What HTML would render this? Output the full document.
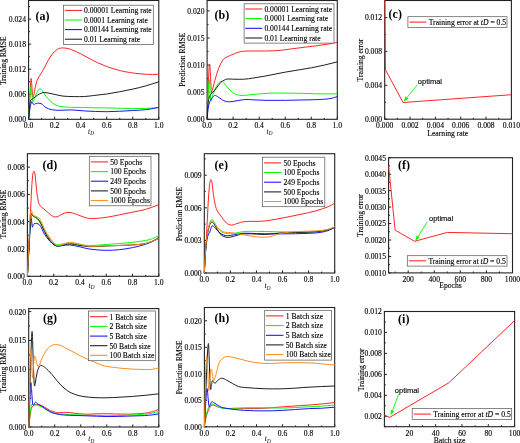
<!DOCTYPE html>
<html lang="en"><head><meta charset="utf-8"><title>Hyperparameter sensitivity figure</title>
<style>html,body{margin:0;padding:0;background:#fff}body{width:520px;height:443px;overflow:hidden}svg{display:block}</style>
</head><body>
<svg width="520" height="443" viewBox="0 0 520 443">
<rect width="520" height="443" fill="#fff"/>
<defs>
<clipPath id="ca"><rect x="28.1" y="0" width="131.2" height="119.8"/></clipPath>
<clipPath id="cb"><rect x="206.6" y="0" width="131.2" height="119.8"/></clipPath>
<clipPath id="cc"><rect x="384.2" y="0" width="127.7" height="119.7"/></clipPath>
<clipPath id="cd"><rect x="26.9" y="153.2" width="132.4" height="123.6"/></clipPath>
<clipPath id="ce"><rect x="203.8" y="153.2" width="131.4" height="120.3"/></clipPath>
<clipPath id="cf"><rect x="388.1" y="157.2" width="124.9" height="116.2"/></clipPath>
<clipPath id="cg"><rect x="28.2" y="308.1" width="131.1" height="119.4"/></clipPath>
<clipPath id="ch"><rect x="203.9" y="307" width="131.3" height="120.3"/></clipPath>
<clipPath id="ci"><rect x="383.9" y="311" width="131.2" height="116.2"/></clipPath>
</defs>
<rect x="28.6" y="0.5" width="130.2" height="118.8" fill="none" stroke="#222" stroke-width="1.1"/>
<path d="M28.6 119.3v-2.6M54.64 119.3v-2.6M80.68 119.3v-2.6M106.72 119.3v-2.6M132.76 119.3v-2.6M158.8 119.3v-2.6M41.62 119.3v-1.4M67.66 119.3v-1.4M93.7 119.3v-1.4M119.74 119.3v-1.4M145.78 119.3v-1.4M28.6 119.3h2.6M28.6 94.25h2.6M28.6 69.2h2.6M28.6 44.15h2.6M28.6 19.1h2.6M28.6 106.77h1.4M28.6 81.72h1.4M28.6 56.67h1.4M28.6 31.62h1.4M28.6 6.58h1.4" fill="none" stroke="#222" stroke-width="1"/>
<g font-family="'Liberation Serif', serif" font-size="7.65" fill="#000" stroke="#000" stroke-width="0.12">
<g text-anchor="middle">
<text x="28.6" y="128.3">0.0</text>
<text x="54.64" y="128.3">0.2</text>
<text x="80.68" y="128.3">0.4</text>
<text x="106.72" y="128.3">0.6</text>
<text x="132.76" y="128.3">0.8</text>
<text x="158.8" y="128.3">1.0</text>
</g><g text-anchor="end">
<text x="26" y="122.2">0.000</text>
<text x="26" y="97.15">0.006</text>
<text x="26" y="72.1">0.012</text>
<text x="26" y="47.05">0.018</text>
<text x="26" y="22">0.024</text>
</g></g>
<g clip-path="url(#ca)" fill="none" stroke-width="0.98" stroke-linejoin="round">
<path d="M28.6 119.3C28.95 113.73 29.34 108.17 29.64 102.6C29.99 96.34 30.18 90.07 30.55 83.81C30.66 82 30.88 78.38 31.07 78.38C31.27 78.38 31.57 82 31.72 83.81C32.05 87.56 32.15 91.34 32.51 95.08C32.59 95.93 32.81 97.59 33.03 97.59C33.25 97.59 33.61 95.94 33.81 95.08C34.91 90.37 35.27 85.38 36.93 80.89C38.39 76.96 41.15 73.54 43.18 69.83C44.88 66.72 46.37 63.5 48.13 60.43C49.32 58.35 50.52 56.22 52.04 54.38C53.56 52.53 55.25 50.58 57.24 49.37C58.81 48.42 60.87 47.89 62.71 47.91C65.51 47.93 68.48 48.58 71.18 49.49C74.82 50.73 78.26 52.64 81.72 54.38C85.29 56.17 88.69 58.31 92.27 60.1C95.77 61.85 99.33 63.5 102.94 64.98C106.4 66.4 109.92 67.68 113.49 68.78C116.95 69.85 120.49 70.75 124.04 71.5C127.52 72.23 131.05 72.74 134.58 73.21C138.13 73.68 141.69 74.04 145.26 74.29C147.6 74.46 149.95 74.46 152.29 74.46C154.46 74.46 156.63 74.35 158.8 74.29" stroke="#ff2020"/>
<path d="M28.6 119.3C28.95 113.73 29.3 108.17 29.64 102.6C29.91 98.15 30.04 93.68 30.42 89.24C30.52 88.11 30.92 85.56 31.07 85.9C31.36 86.53 31.52 90.07 31.72 92.16C32 94.94 32.1 97.77 32.51 100.51C32.57 100.97 32.97 101.96 33.16 101.77C33.62 101.27 34.03 99.54 34.46 98.42C35.11 96.75 35.65 95.03 36.41 93.41C36.96 92.25 37.56 91.05 38.37 90.07C38.82 89.52 39.6 88.76 40.19 88.82C40.9 88.9 41.73 89.8 42.27 90.49C43.68 92.3 44.58 94.56 46.05 96.34C48.14 98.87 50.33 101.53 52.95 103.44C54.93 104.87 57.43 105.85 59.85 106.36C63.64 107.15 67.65 107.12 71.57 107.32C75.9 107.54 80.25 107.54 84.59 107.61C91.96 107.73 99.34 107.76 106.72 107.9C115.4 108.08 124.08 108.45 132.76 108.57C137.1 108.63 141.44 108.56 145.78 108.44C148.39 108.38 150.99 108.24 153.59 108.03C155.33 107.89 157.06 107.61 158.8 107.4" stroke="#00ff00"/>
<path d="M28.6 119.3C29.03 115.82 29.29 112.31 29.9 108.86C30.33 106.46 30.86 102.77 31.72 101.77C32.12 101.31 32.86 104.17 33.68 104.48C34.34 104.73 35.28 103.53 36.15 103.44C37.76 103.25 39.65 103.03 41.1 103.64C42.95 104.43 44.24 106.57 46.05 107.61C47.75 108.59 49.71 109.32 51.65 109.7C54.31 110.22 57.11 110.3 59.85 110.32C63.75 110.36 67.67 109.81 71.57 109.91C75.91 110.02 80.24 110.73 84.59 110.95C91.96 111.33 99.34 111.77 106.72 111.7C115.4 111.63 124.08 110.98 132.76 110.53C137.1 110.31 141.46 110.13 145.78 109.7C148.4 109.43 151 108.9 153.59 108.44C155.34 108.14 157.06 107.75 158.8 107.4" stroke="#1010ff"/>
<path d="M28.6 119.3C28.95 115.13 29.21 110.94 29.64 106.77C29.86 104.68 29.75 102.3 30.55 100.51C31 99.51 32.48 99.15 33.42 98.42C34.83 97.34 36.11 96.06 37.58 95.08C38.84 94.25 40.22 93.55 41.62 93C42.35 92.71 43.18 92.58 43.96 92.58C45.35 92.58 46.75 92.78 48.13 93C49.75 93.25 51.34 93.66 52.95 94C56.25 94.69 59.51 95.68 62.84 96.09C66.58 96.54 70.39 96.52 74.17 96.59C77.64 96.65 81.12 96.7 84.59 96.5C87.63 96.34 90.66 95.85 93.7 95.5C98.04 95.01 102.4 94.62 106.72 94C111.08 93.37 115.41 92.56 119.74 91.75C124.09 90.93 128.44 90.08 132.76 89.11C137.12 88.14 141.48 87.11 145.78 85.9C150.16 84.67 154.46 83.17 158.8 81.81" stroke="#1a1a1a"/>
</g>
<rect x="63.4" y="5.2" width="89.9" height="39.4" fill="#fff" stroke="#555" stroke-width="0.7"/>
<path d="M64.9 10.4H82.1" stroke="#ff2020" stroke-width="1.05"/>
<path d="M64.9 20H82.1" stroke="#00ff00" stroke-width="1.05"/>
<path d="M64.9 29.6H82.1" stroke="#1010ff" stroke-width="1.05"/>
<path d="M64.9 39.2H82.1" stroke="#1a1a1a" stroke-width="1.05"/>
<g font-family="'Liberation Serif', serif" font-size="7.65" fill="#000" stroke="#000" stroke-width="0.12">
<text x="84" y="13.2">0.00001 Learning rate</text>
<text x="84" y="22.8">0.0001 Learning rate</text>
<text x="84" y="32.4">0.00144 Learning rate</text>
<text x="84" y="42">0.01 Learning rate</text>
</g>
<text x="35.5" y="19.5" font-family="'Liberation Serif', serif" font-size="12" font-weight="bold" fill="#000">(a)</text>
<text transform="translate(6.2 60.7) rotate(-90)" text-anchor="middle" font-family="'Liberation Serif', serif" font-size="7.65" fill="#000" stroke="#000" stroke-width="0.12">Training RMSE</text>
<text x="88" y="133.7" font-family="'Liberation Serif', serif" font-size="7.65" font-style="italic" fill="#000">t<tspan font-size="5.2" dy="1.6">D</tspan></text>
<rect x="207.1" y="0.5" width="130.2" height="118.8" fill="none" stroke="#222" stroke-width="1.1"/>
<path d="M207.1 119.3v-2.6M233.14 119.3v-2.6M259.18 119.3v-2.6M285.22 119.3v-2.6M311.26 119.3v-2.6M337.3 119.3v-2.6M220.12 119.3v-1.4M246.16 119.3v-1.4M272.2 119.3v-1.4M298.24 119.3v-1.4M324.28 119.3v-1.4M207.1 119.3h2.6M207.1 92.2h2.6M207.1 65.1h2.6M207.1 38h2.6M207.1 10.9h2.6M207.1 105.75h1.4M207.1 78.65h1.4M207.1 51.55h1.4M207.1 24.45h1.4" fill="none" stroke="#222" stroke-width="1"/>
<g font-family="'Liberation Serif', serif" font-size="7.65" fill="#000" stroke="#000" stroke-width="0.12">
<g text-anchor="middle">
<text x="207.1" y="128.3">0.0</text>
<text x="233.14" y="128.3">0.2</text>
<text x="259.18" y="128.3">0.4</text>
<text x="285.22" y="128.3">0.6</text>
<text x="311.26" y="128.3">0.8</text>
<text x="337.3" y="128.3">1.0</text>
</g><g text-anchor="end">
<text x="204.5" y="122.2">0.000</text>
<text x="204.5" y="95.1">0.005</text>
<text x="204.5" y="68">0.010</text>
<text x="204.5" y="40.9">0.015</text>
<text x="204.5" y="13.8">0.020</text>
</g></g>
<g clip-path="url(#cb)" fill="none" stroke-width="0.98" stroke-linejoin="round">
<path d="M207.1 119.3C207.45 110.27 207.8 101.23 208.14 92.2C208.45 84.07 208.6 75.92 209.05 67.81C209.12 66.53 209.59 63.36 209.7 64.02C210.07 66.07 210.26 71.96 210.49 75.94C210.74 80.45 210.82 84.98 211.14 89.49C211.21 90.58 211.42 92.74 211.66 92.74C211.9 92.74 212.28 90.58 212.57 89.49C213.37 86.42 214.03 83.32 214.91 80.28C216.12 76.09 217.24 71.85 218.82 67.81C219.85 65.17 221.19 62.58 222.72 60.22C223.36 59.24 224.33 58.41 225.33 57.78C226.94 56.78 228.78 56.12 230.54 55.34C232.26 54.58 233.97 53.79 235.74 53.18C237.88 52.44 240.03 51.56 242.25 51.28C245.67 50.84 249.2 51.05 252.67 51.01C257.01 50.96 261.35 51.1 265.69 51.01C270.03 50.92 274.38 50.83 278.71 50.47C283.06 50.1 287.39 49.38 291.73 48.84C296.07 48.3 300.41 47.76 304.75 47.21C309.09 46.67 313.44 46.17 317.77 45.59C322.12 45 326.47 44.41 330.79 43.69C332.98 43.33 335.13 42.79 337.3 42.34" stroke="#ff2020"/>
<path d="M207.1 119.3C207.4 112.07 207.68 104.85 208.01 97.62C208.24 92.56 208.43 87.49 208.79 82.44C208.86 81.53 209.23 79.22 209.31 79.73C209.62 81.57 209.75 86.24 209.96 89.49C210.19 92.92 210.27 96.39 210.62 99.79C210.66 100.18 211.02 101.1 211.14 100.87C211.58 100.02 211.84 97.96 212.31 96.54C213.1 94.16 213.89 91.77 214.91 89.49C215.84 87.43 216.83 85.3 218.17 83.53C218.87 82.59 220.02 81.57 221.03 81.36C221.76 81.21 222.76 81.86 223.38 82.44C225.06 84.03 226.29 86.17 227.93 87.86C229.85 89.84 231.73 92.09 234.05 93.45C236.07 94.62 238.61 95.22 240.95 95.45C243.51 95.71 246.16 95.13 248.76 94.91C254.19 94.46 259.61 93.79 265.04 93.45C269.59 93.16 274.15 93.04 278.71 93.01C285.22 92.98 291.73 93.15 298.24 93.28C304.75 93.42 311.26 93.74 317.77 93.83C324.28 93.92 330.79 93.83 337.3 93.83" stroke="#00ff00"/>
<path d="M207.1 119.3C207.45 115.69 207.6 112.04 208.14 108.46C208.47 106.26 208.91 104.01 209.7 101.96C210.3 100.4 211.3 98.95 212.31 97.62C212.95 96.78 213.77 95.64 214.65 95.45C215.5 95.28 216.63 96.04 217.52 96.54C218.89 97.31 220.06 98.45 221.42 99.25C222.97 100.15 224.53 101.31 226.24 101.63C228.44 102.04 230.86 101.68 233.14 101.41C236.98 100.97 240.76 99.84 244.6 99.52C247.27 99.29 249.98 99.68 252.67 99.79C256.79 99.95 260.91 100.26 265.04 100.33C271.76 100.44 278.49 100.41 285.22 100.33C293.9 100.23 302.58 100.03 311.26 99.79C315.6 99.67 319.95 99.58 324.28 99.25C326.9 99.04 329.53 98.7 332.09 98.16C333.87 97.79 335.56 97.08 337.3 96.54" stroke="#1010ff"/>
<path d="M207.1 119.3C207.4 113.88 207.41 108.42 208.01 103.04C208.28 100.65 208.79 98.17 209.7 95.99C210.23 94.74 211.4 93.79 212.31 92.74C213.13 91.8 214.11 90.99 214.91 90.03C216.07 88.64 217.06 87.12 218.17 85.7C219.1 84.5 219.93 83.19 221.03 82.17C221.89 81.38 222.98 80.81 224.03 80.28C225.02 79.77 226.06 79.16 227.15 79.03C229.1 78.8 231.14 79.17 233.14 79.19C236.96 79.23 240.79 79.4 244.6 79.19C247.3 79.04 249.99 78.51 252.67 78.11C256.8 77.48 260.93 76.86 265.04 76.1C271.78 74.87 278.47 73.36 285.22 72.15C293.88 70.59 302.6 69.37 311.26 67.81C315.62 67.02 319.96 66.09 324.28 65.1C328.64 64.1 332.96 62.93 337.3 61.85" stroke="#1a1a1a"/>
</g>
<rect x="244.1" y="3.8" width="89.9" height="39.3" fill="#fff" stroke="#555" stroke-width="0.7"/>
<path d="M245.2 9H262.3" stroke="#ff2020" stroke-width="1.05"/>
<path d="M245.2 18.6H262.3" stroke="#00ff00" stroke-width="1.05"/>
<path d="M245.2 28.3H262.3" stroke="#1010ff" stroke-width="1.05"/>
<path d="M245.2 38H262.3" stroke="#1a1a1a" stroke-width="1.05"/>
<g font-family="'Liberation Serif', serif" font-size="7.65" fill="#000" stroke="#000" stroke-width="0.12">
<text x="264.4" y="11.8">0.00001 Learning rate</text>
<text x="264.4" y="21.4">0.0001 Learning rate</text>
<text x="264.4" y="31.1">0.00144 Learning rate</text>
<text x="264.4" y="40.8">0.01 Learning rate</text>
</g>
<text x="214.6" y="18.8" font-family="'Liberation Serif', serif" font-size="12" font-weight="bold" fill="#000">(b)</text>
<text transform="translate(184.5 59.7) rotate(-90)" text-anchor="middle" font-family="'Liberation Serif', serif" font-size="7.65" fill="#000" stroke="#000" stroke-width="0.12">Prediction RMSE</text>
<text x="266.5" y="133.7" font-family="'Liberation Serif', serif" font-size="7.65" font-style="italic" fill="#000">t<tspan font-size="5.2" dy="1.6">D</tspan></text>
<rect x="384.7" y="0.5" width="126.7" height="118.7" fill="none" stroke="#222" stroke-width="1.1"/>
<path d="M384.7 119.2v-2.6M410.04 119.2v-2.6M435.38 119.2v-2.6M460.72 119.2v-2.6M486.06 119.2v-2.6M511.4 119.2v-2.6M397.37 119.2v-1.4M422.71 119.2v-1.4M448.05 119.2v-1.4M473.39 119.2v-1.4M498.73 119.2v-1.4M384.7 119.2h2.6M384.7 85.3h2.6M384.7 51.4h2.6M384.7 17.5h2.6M384.7 102.25h1.4M384.7 68.35h1.4M384.7 34.45h1.4" fill="none" stroke="#222" stroke-width="1"/>
<g font-family="'Liberation Serif', serif" font-size="7.65" fill="#000" stroke="#000" stroke-width="0.12">
<g text-anchor="middle">
<text x="384.7" y="128.2">0.000</text>
<text x="410.04" y="128.2">0.002</text>
<text x="435.38" y="128.2">0.004</text>
<text x="460.72" y="128.2">0.006</text>
<text x="486.06" y="128.2">0.008</text>
<text x="511.4" y="128.2">0.010</text>
</g><g text-anchor="end">
<text x="382.1" y="122.1">0.000</text>
<text x="382.1" y="88.2">0.004</text>
<text x="382.1" y="54.3">0.008</text>
<text x="382.1" y="20.4">0.012</text>
</g></g>
<g clip-path="url(#cc)" fill="none" stroke-width="0.98" stroke-linejoin="round">
<path d="M384.83 -3.69L385.46 69.79L403.07 102.5L511.4 94.71" stroke="#ff2020"/>
</g>
<rect x="407.9" y="16.7" width="99.1" height="10.9" fill="#fff" stroke="#555" stroke-width="0.7"/>
<path d="M409.4 22.1H426.3" stroke="#ff2020" stroke-width="1.05"/>
<g font-family="'Liberation Serif', serif" font-size="7.65" fill="#000" stroke="#000" stroke-width="0.12">
<text x="428.7" y="24.9">Training error at <tspan font-style="italic">tD</tspan> = 0.5</text>
</g>
<text x="388.6" y="17.6" font-family="'Liberation Serif', serif" font-size="12" font-weight="bold" fill="#000">(c)</text>
<text transform="translate(362.9 60) rotate(-90)" text-anchor="middle" font-family="'Liberation Serif', serif" font-size="7.65" fill="#000" stroke="#000" stroke-width="0.12">Training error</text>
<text x="447.8" y="135.6" text-anchor="middle" font-family="'Liberation Serif', serif" font-size="7.65" fill="#000" stroke="#000" stroke-width="0.12">Learning rate</text>
<path d="M417.4 84.8L407.13 97.45" stroke="#00ff00" stroke-width="0.9" fill="none"/>
<path d="M403.6 101.8L405.65 96.25L408.6 98.65Z" fill="#00ff00"/>
<text x="417.8" y="83.9" font-family="'Liberation Sans', sans-serif" font-size="7.5" fill="#000" stroke="#000" stroke-width="0.12">optimal</text>
<rect x="27.4" y="153.7" width="131.4" height="122.6" fill="none" stroke="#222" stroke-width="1.1"/>
<path d="M27.4 276.3v-2.6M53.68 276.3v-2.6M79.96 276.3v-2.6M106.24 276.3v-2.6M132.52 276.3v-2.6M158.8 276.3v-2.6M40.54 276.3v-1.4M66.82 276.3v-1.4M93.1 276.3v-1.4M119.38 276.3v-1.4M145.66 276.3v-1.4M27.4 276.3h2.6M27.4 249h2.6M27.4 221.7h2.6M27.4 194.4h2.6M27.4 167.1h2.6M27.4 262.65h1.4M27.4 235.35h1.4M27.4 208.05h1.4M27.4 180.75h1.4" fill="none" stroke="#222" stroke-width="1"/>
<g font-family="'Liberation Serif', serif" font-size="7.65" fill="#000" stroke="#000" stroke-width="0.12">
<g text-anchor="middle">
<text x="27.4" y="285.3">0.0</text>
<text x="53.68" y="285.3">0.2</text>
<text x="79.96" y="285.3">0.4</text>
<text x="106.24" y="285.3">0.6</text>
<text x="132.52" y="285.3">0.8</text>
<text x="158.8" y="285.3">1.0</text>
</g><g text-anchor="end">
<text x="24.8" y="279.2">0.000</text>
<text x="24.8" y="251.9">0.002</text>
<text x="24.8" y="224.6">0.004</text>
<text x="24.8" y="197.3">0.006</text>
<text x="24.8" y="170">0.008</text>
</g></g>
<g clip-path="url(#cd)" fill="none" stroke-width="0.98" stroke-linejoin="round">
<path d="M27.4 276.3C28.06 262.65 28.71 249 29.37 235.35C30.03 221.7 30.6 208.04 31.34 194.4C31.69 188.02 31.94 181.61 32.66 175.29C32.82 173.83 33.5 171.33 33.97 171.06C34.29 170.87 34.88 172.92 35.02 173.93C35.76 179.34 35.92 184.86 36.6 190.31C37.11 194.42 37.58 198.61 38.57 202.59C38.89 203.89 39.71 205.1 40.54 206.14C41.24 207.01 42.3 207.58 43.17 208.32C45.06 209.95 46.91 211.63 48.82 213.24C49.89 214.13 50.92 215.13 52.1 215.83C53.06 216.4 54.19 216.99 55.26 217.06C56.29 217.13 57.42 216.67 58.41 216.24C59.61 215.71 60.62 214.73 61.83 214.19C63.47 213.46 65.2 212.62 66.95 212.42C68.79 212.21 70.78 212.5 72.6 212.96C75.42 213.68 78.11 214.99 80.88 215.97C82.75 216.63 84.6 217.47 86.53 217.88C88.67 218.33 90.91 218.62 93.1 218.56C97.48 218.44 101.89 217.94 106.24 217.33C110.65 216.71 115.01 215.74 119.38 214.88C123.77 214.01 128.14 213.06 132.52 212.15C136.9 211.24 141.37 210.64 145.66 209.42C150.13 208.14 154.42 206.23 158.8 204.64" stroke="#ff2020"/>
<path d="M27.4 276.3C27.93 267.2 28.43 258.1 28.98 249C29.52 239.9 29.83 230.76 30.68 221.7C30.89 219.57 31.17 216.28 32.13 215.42C32.7 214.91 34.29 216.8 35.28 217.61C36.66 218.71 38.22 219.73 39.23 221.15C41.28 224.05 42.66 227.47 44.48 230.57C46.16 233.43 47.62 236.54 49.74 239.04C51.56 241.18 53.87 243.43 56.31 244.5C57.81 245.15 59.83 244.44 61.56 244.22C64.21 243.89 66.82 242.82 69.45 242.86C72.95 242.91 76.45 244.01 79.96 244.5C83.02 244.92 86.08 245.59 89.16 245.59C94.84 245.59 100.55 244.88 106.24 244.5C110.62 244.2 115 243.9 119.38 243.54C123.76 243.18 128.15 242.81 132.52 242.31C136.91 241.81 141.32 241.32 145.66 240.54C147.89 240.14 150.11 239.55 152.23 238.76C154.49 237.92 156.61 236.67 158.8 235.62" stroke="#00ff00"/>
<path d="M27.4 276.3C27.93 267.2 28.45 258.1 28.98 249C29.5 239.9 29.85 230.77 30.55 221.7C30.64 220.63 31.18 218.07 31.34 218.56C31.79 219.89 31.78 225.95 32.39 227.16C32.66 227.68 33.03 224.11 33.97 223.75C35.3 223.24 38.08 223.43 39.23 224.57C41.58 226.89 42.54 231.06 44.48 234.12C46.04 236.57 47.71 239.04 49.74 241.08C51.65 243 53.91 245.05 56.31 246C57.85 246.6 59.82 245.87 61.56 245.72C64.2 245.51 66.84 244.75 69.45 244.91C72.97 245.11 76.47 246.09 79.96 246.82C83.04 247.46 86.04 248.58 89.16 249C94.8 249.76 100.54 250.24 106.24 250.37C110.62 250.46 115.02 250.14 119.38 249.68C123.78 249.23 128.19 248.54 132.52 247.64C136.95 246.72 141.37 245.62 145.66 244.22C148.38 243.34 151.02 242.14 153.54 240.81C155.4 239.82 157.05 238.44 158.8 237.26" stroke="#1010ff"/>
<path d="M27.4 276.3C27.93 266.29 28.43 256.28 28.98 246.27C29.48 237.17 29.83 228.04 30.55 218.97C30.7 217.12 31.02 214.09 31.6 213.51C31.94 213.18 32.58 215.53 33.31 216.24C33.8 216.71 34.7 216.66 35.28 217.06C36.68 218.02 38.33 218.92 39.23 220.34C41.39 223.74 42.56 227.89 44.48 231.53C46.07 234.53 47.61 237.66 49.74 240.26C51.56 242.49 53.85 244.92 56.31 246C57.8 246.65 59.83 245.72 61.56 245.45C64.21 245.04 66.81 243.95 69.45 243.95C72.94 243.95 76.45 244.97 79.96 245.45C83.02 245.88 86.08 246.62 89.16 246.68C94.84 246.8 100.55 246.23 106.24 246C115 245.64 123.77 245.45 132.52 244.91C136.91 244.63 141.36 244.38 145.66 243.54C148.37 243.01 150.95 241.81 153.54 240.81C155.33 240.12 157.05 239.26 158.8 238.49" stroke="#1a1a1a"/>
<path d="M27.4 276.3C27.93 264.93 28.44 253.55 28.98 242.18C29.41 233.07 29.62 223.94 30.29 214.88C30.41 213.25 30.91 210.1 31.34 210.1C31.79 210.1 32.07 213.55 32.92 214.88C33.38 215.6 34.48 215.82 35.28 216.24C36.58 216.91 38.24 217.17 39.23 218.15C40.43 219.35 41.08 221.2 41.85 222.79C42.83 224.79 43.43 226.98 44.48 228.93C46.06 231.89 47.79 234.81 49.74 237.53C51.73 240.32 53.7 243.83 56.31 245.45C57.65 246.28 59.86 245.31 61.56 244.91C64.24 244.27 66.77 242.41 69.45 242.31C72.9 242.18 76.47 243.52 79.96 244.22C83.04 244.84 86.04 246.09 89.16 246.27C94.8 246.59 100.55 245.9 106.24 245.72C115 245.45 123.77 245.39 132.52 244.91C136.91 244.66 141.36 244.38 145.66 243.54C148.37 243.01 150.95 241.81 153.54 240.81C155.33 240.12 157.05 239.26 158.8 238.49" stroke="#ff8a14"/>
</g>
<rect x="89.3" y="156.3" width="61.7" height="49.5" fill="#fff" stroke="#555" stroke-width="0.7"/>
<path d="M90.9 161.9H108" stroke="#ff2020" stroke-width="1.05"/>
<path d="M90.9 171.6H108" stroke="#00ff00" stroke-width="1.05"/>
<path d="M90.9 181.2H108" stroke="#1010ff" stroke-width="1.05"/>
<path d="M90.9 190.9H108" stroke="#1a1a1a" stroke-width="1.05"/>
<path d="M90.9 200.6H108" stroke="#ff8a14" stroke-width="1.05"/>
<g font-family="'Liberation Serif', serif" font-size="7.65" fill="#000" stroke="#000" stroke-width="0.12">
<text x="110.2" y="164.7">50 Epochs</text>
<text x="110.2" y="174.4">100 Epochs</text>
<text x="110.2" y="184">249 Epochs</text>
<text x="110.2" y="193.7">500 Epochs</text>
<text x="110.2" y="203.4">1000 Epochs</text>
</g>
<text x="42.6" y="168.8" font-family="'Liberation Serif', serif" font-size="12" font-weight="bold" fill="#000">(d)</text>
<text transform="translate(5.8 214) rotate(-90)" text-anchor="middle" font-family="'Liberation Serif', serif" font-size="7.65" fill="#000" stroke="#000" stroke-width="0.12">Training RMSE</text>
<text x="88.5" y="287.5" font-family="'Liberation Serif', serif" font-size="7.65" font-style="italic" fill="#000">t<tspan font-size="5.2" dy="1.6">D</tspan></text>
<rect x="204.3" y="153.7" width="130.4" height="119.3" fill="none" stroke="#222" stroke-width="1.1"/>
<path d="M204.3 273v-2.6M230.38 273v-2.6M256.46 273v-2.6M282.54 273v-2.6M308.62 273v-2.6M334.7 273v-2.6M217.34 273v-1.4M243.42 273v-1.4M269.5 273v-1.4M295.58 273v-1.4M321.66 273v-1.4M204.3 273h2.6M204.3 240.4h2.6M204.3 207.8h2.6M204.3 175.2h2.6M204.3 256.7h1.4M204.3 224.1h1.4M204.3 191.5h1.4M204.3 158.9h1.4" fill="none" stroke="#222" stroke-width="1"/>
<g font-family="'Liberation Serif', serif" font-size="7.65" fill="#000" stroke="#000" stroke-width="0.12">
<g text-anchor="middle">
<text x="204.3" y="282">0.0</text>
<text x="230.38" y="282">0.2</text>
<text x="256.46" y="282">0.4</text>
<text x="282.54" y="282">0.6</text>
<text x="308.62" y="282">0.8</text>
<text x="334.7" y="282">1.0</text>
</g><g text-anchor="end">
<text x="201.7" y="275.9">0.000</text>
<text x="201.7" y="243.3">0.003</text>
<text x="201.7" y="210.7">0.006</text>
<text x="201.7" y="178.1">0.009</text>
</g></g>
<g clip-path="url(#ce)" fill="none" stroke-width="0.98" stroke-linejoin="round">
<path d="M204.3 273C204.95 262.13 205.65 251.27 206.26 240.4C206.96 227.73 207.47 215.04 208.21 202.37C208.55 196.57 208.86 190.74 209.52 184.98C209.73 183.13 210.27 180.31 210.82 179.55C211.06 179.22 211.73 180.93 211.86 181.72C212.6 186 212.79 190.43 213.43 194.76C213.96 198.4 214.53 202.06 215.38 205.63C215.83 207.49 216.43 209.38 217.34 211.06C218.39 213 219.9 214.72 221.25 216.49C222.94 218.7 224.39 221.3 226.47 223.01C227.87 224.16 229.92 224.99 231.68 225.08C233.39 225.17 235.15 224.04 236.9 223.56C239.37 222.88 241.81 221.92 244.33 221.6C247.46 221.2 250.68 221.47 253.85 221.38C257.5 221.29 261.18 221.41 264.81 221.06C268.57 220.69 272.29 219.88 276.02 219.21C280.38 218.43 284.72 217.58 289.06 216.71C293.41 215.84 297.76 214.93 302.1 213.99C306.45 213.05 310.85 212.26 315.14 211.06C319.55 209.83 323.94 208.41 328.18 206.71C330.46 205.8 332.53 204.4 334.7 203.24" stroke="#ff2020"/>
<path d="M204.3 273C204.73 265.76 205 258.5 205.6 251.27C206.09 245.46 206.73 239.65 207.56 233.88C208.03 230.59 208.59 227.27 209.52 224.1C210.01 222.42 210.88 219.76 211.8 219.32C212.4 219.03 213.43 220.98 214.08 221.93C215.27 223.66 216.1 225.66 217.34 227.36C218.49 228.92 219.73 230.57 221.25 231.71C222.34 232.52 223.8 232.97 225.16 233.23C227.41 233.66 229.79 233.89 232.08 233.77C234.14 233.67 236.16 232.96 238.2 232.58C240.24 232.2 242.27 231.62 244.33 231.49C248.35 231.23 252.42 231.38 256.46 231.38C259.24 231.38 262.02 231.43 264.81 231.49C270.72 231.61 276.63 231.89 282.54 231.92C291.23 231.97 299.94 232 308.62 231.71C312.98 231.56 317.34 231.18 321.66 230.62C324.3 230.28 326.94 229.73 329.48 228.99C331.28 228.46 332.96 227.54 334.7 226.82" stroke="#00ff00"/>
<path d="M204.3 273C204.73 265.76 205.04 258.5 205.6 251.27C205.91 247.27 206.28 243.26 206.91 239.31C207.15 237.82 207.65 236.36 208.21 234.97C208.56 234.11 209.28 233.43 209.65 232.58C210.59 230.38 210.93 227.06 212.12 225.84C212.63 225.32 214 226.69 214.73 227.36C215.74 228.28 216.36 229.64 217.34 230.62C218.53 231.81 219.83 232.99 221.25 233.88C222.44 234.62 223.8 235.27 225.16 235.51C226.84 235.81 228.66 235.72 230.38 235.51C233.01 235.18 235.58 234.31 238.2 233.88C240.23 233.55 242.28 233.26 244.33 233.23C248.37 233.16 252.42 233.45 256.46 233.55C259.24 233.63 262.02 233.74 264.81 233.77C270.72 233.85 276.63 233.94 282.54 233.88C291.23 233.79 299.94 233.7 308.62 233.34C312.98 233.16 317.37 232.92 321.66 232.25C324.32 231.83 326.96 231.02 329.48 230.08C331.31 229.39 332.96 228.27 334.7 227.36" stroke="#1010ff"/>
<path d="M204.3 273C204.73 265.03 204.94 257.04 205.6 249.09C206.03 244 206.74 238.92 207.56 233.88C208.04 230.95 208.54 227.94 209.52 225.19C209.95 223.96 210.95 222.13 211.8 221.93C212.47 221.77 213.47 223.26 214.08 224.1C215.31 225.79 216.18 227.77 217.34 229.53C218.57 231.39 219.63 233.54 221.25 234.97C222.54 236.11 224.39 236.85 226.08 237.25C227.44 237.57 228.98 237.4 230.38 237.14C233.02 236.64 235.57 235.6 238.2 234.97C240.23 234.48 242.26 233.87 244.33 233.77C248.35 233.58 252.42 233.95 256.46 234.1C259.24 234.2 262.03 234.67 264.81 234.53C270.72 234.24 276.61 233.1 282.54 232.79C291.22 232.34 299.94 232.61 308.62 232.25C312.98 232.07 317.34 231.73 321.66 231.16C324.3 230.82 326.95 230.29 329.48 229.53C331.29 228.99 332.96 228.01 334.7 227.25" stroke="#1a1a1a"/>
<path d="M204.3 273C204.73 265.03 204.96 257.04 205.6 249.09C206.05 243.64 206.71 238.19 207.56 232.79C208.02 229.86 208.53 226.84 209.52 224.1C209.94 222.93 210.91 221.38 211.8 221.06C212.43 220.83 213.5 221.81 214.08 222.47C215.35 223.91 216.06 225.9 217.34 227.36C218.45 228.62 219.84 229.71 221.25 230.62C222.44 231.38 223.79 232.06 225.16 232.36C226.84 232.72 228.65 232.4 230.38 232.58C233 232.84 235.61 233.22 238.2 233.66C240.26 234.02 242.28 234.61 244.33 234.97C248.36 235.66 252.4 236.36 256.46 236.81C259.23 237.12 262.04 237.38 264.81 237.25C267.26 237.13 269.71 236.63 272.11 236.05C275.62 235.21 278.99 233.67 282.54 233.01C286.82 232.22 291.22 232.02 295.58 231.71C299.92 231.4 304.27 231.34 308.62 231.16C312.97 230.98 317.35 231.07 321.66 230.62C324.3 230.34 326.94 229.73 329.48 228.99C331.28 228.46 332.96 227.54 334.7 226.82" stroke="#ff8a14"/>
</g>
<rect x="262.6" y="157.2" width="62.2" height="49.5" fill="#fff" stroke="#555" stroke-width="0.7"/>
<path d="M264.1 162.9H281.2" stroke="#ff2020" stroke-width="1.05"/>
<path d="M264.1 172.5H281.2" stroke="#00ff00" stroke-width="1.05"/>
<path d="M264.1 182.2H281.2" stroke="#1010ff" stroke-width="1.05"/>
<path d="M264.1 191.9H281.2" stroke="#1a1a1a" stroke-width="1.05"/>
<path d="M264.1 201.5H281.2" stroke="#ff8a14" stroke-width="1.05"/>
<g font-family="'Liberation Serif', serif" font-size="7.65" fill="#000" stroke="#000" stroke-width="0.12">
<text x="283.5" y="165.7">50 Epochs</text>
<text x="283.5" y="175.3">100 Epochs</text>
<text x="283.5" y="185">249 Epochs</text>
<text x="283.5" y="194.7">500 Epochs</text>
<text x="283.5" y="204.3">1000 Epochs</text>
</g>
<text x="214.6" y="168.8" font-family="'Liberation Serif', serif" font-size="12" font-weight="bold" fill="#000">(e)</text>
<text transform="translate(181.9 214) rotate(-90)" text-anchor="middle" font-family="'Liberation Serif', serif" font-size="7.65" fill="#000" stroke="#000" stroke-width="0.12">Prediction RMSE</text>
<text x="264.5" y="288.2" font-family="'Liberation Serif', serif" font-size="7.65" font-style="italic" fill="#000">t<tspan font-size="5.2" dy="1.6">D</tspan></text>
<rect x="388.6" y="157.7" width="123.9" height="115.2" fill="none" stroke="#222" stroke-width="1.1"/>
<path d="M408.16 272.9v-2.6M434.25 272.9v-2.6M460.33 272.9v-2.6M486.42 272.9v-2.6M512.5 272.9v-2.6M395.12 272.9v-1.4M421.21 272.9v-1.4M447.29 272.9v-1.4M473.37 272.9v-1.4M499.46 272.9v-1.4M388.6 272.9h2.6M388.6 256.44h2.6M388.6 239.99h2.6M388.6 223.53h2.6M388.6 207.07h2.6M388.6 190.61h2.6M388.6 174.16h2.6M388.6 157.7h2.6M388.6 264.67h1.4M388.6 248.21h1.4M388.6 231.76h1.4M388.6 215.3h1.4M388.6 198.84h1.4M388.6 182.39h1.4M388.6 165.93h1.4" fill="none" stroke="#222" stroke-width="1"/>
<g font-family="'Liberation Serif', serif" font-size="7.65" fill="#000" stroke="#000" stroke-width="0.12">
<g text-anchor="middle">
<text x="408.16" y="281.9">200</text>
<text x="434.25" y="281.9">400</text>
<text x="460.33" y="281.9">600</text>
<text x="486.42" y="281.9">800</text>
<text x="512.5" y="281.9">1000</text>
</g><g text-anchor="end">
<text x="386" y="275.8">0.0010</text>
<text x="386" y="259.34">0.0015</text>
<text x="386" y="242.89">0.0020</text>
<text x="386" y="226.43">0.0025</text>
<text x="386" y="209.97">0.0030</text>
<text x="386" y="193.51">0.0035</text>
<text x="386" y="177.06">0.0040</text>
<text x="386" y="160.6">0.0045</text>
</g></g>
<g clip-path="url(#cf)" fill="none" stroke-width="0.98" stroke-linejoin="round">
<path d="M388.6 165.93L395.12 230.11L414.55 241.3L447.29 232.42L512.5 233.73" stroke="#ff2020"/>
</g>
<rect x="407.3" y="255.7" width="99.7" height="10.4" fill="#fff" stroke="#555" stroke-width="0.7"/>
<path d="M408.9 260.8H426" stroke="#ff2020" stroke-width="1.05"/>
<g font-family="'Liberation Serif', serif" font-size="7.65" fill="#000" stroke="#000" stroke-width="0.12">
<text x="428.4" y="263.6">Training error at <tspan font-style="italic">tD</tspan> = 0.5</text>
</g>
<text x="398.1" y="168.8" font-family="'Liberation Serif', serif" font-size="12" font-weight="bold" fill="#000">(f)</text>
<text transform="translate(363 215.5) rotate(-90)" text-anchor="middle" font-family="'Liberation Serif', serif" font-size="7.65" fill="#000" stroke="#000" stroke-width="0.12">Training error</text>
<text x="450.5" y="288" text-anchor="middle" font-family="'Liberation Serif', serif" font-size="7.65" fill="#000" stroke="#000" stroke-width="0.12">Epochs</text>
<path d="M427.3 221.6L418.25 236.24" stroke="#00ff00" stroke-width="0.9" fill="none"/>
<path d="M415.3 241L416.63 235.24L419.86 237.24Z" fill="#00ff00"/>
<text x="429" y="221" font-family="'Liberation Sans', sans-serif" font-size="7.5" fill="#000" stroke="#000" stroke-width="0.12">optimal</text>
<rect x="28.7" y="308.6" width="130.1" height="118.4" fill="none" stroke="#222" stroke-width="1.1"/>
<path d="M28.7 427v-2.6M54.72 427v-2.6M80.74 427v-2.6M106.76 427v-2.6M132.78 427v-2.6M158.8 427v-2.6M41.71 427v-1.4M67.73 427v-1.4M93.75 427v-1.4M119.77 427v-1.4M145.79 427v-1.4M28.7 427h2.6M28.7 398.15h2.6M28.7 369.3h2.6M28.7 340.45h2.6M28.7 311.6h2.6M28.7 412.57h1.4M28.7 383.73h1.4M28.7 354.88h1.4M28.7 326.02h1.4" fill="none" stroke="#222" stroke-width="1"/>
<g font-family="'Liberation Serif', serif" font-size="7.65" fill="#000" stroke="#000" stroke-width="0.12">
<g text-anchor="middle">
<text x="28.7" y="436">0.0</text>
<text x="54.72" y="436">0.2</text>
<text x="80.74" y="436">0.4</text>
<text x="106.76" y="436">0.6</text>
<text x="132.78" y="436">0.8</text>
<text x="158.8" y="436">1.0</text>
</g><g text-anchor="end">
<text x="26.1" y="429.9">0.000</text>
<text x="26.1" y="401.05">0.005</text>
<text x="26.1" y="372.2">0.010</text>
<text x="26.1" y="343.35">0.015</text>
<text x="26.1" y="314.5">0.020</text>
</g></g>
<g clip-path="url(#cg)" fill="none" stroke-width="0.98" stroke-linejoin="round">
<path d="M28.7 427C29.05 424.12 29.35 421.22 29.74 418.35C30.13 415.45 30.46 412.54 31.04 409.69C31.24 408.69 31.49 407.58 32.08 406.81C32.66 406.04 33.65 405.46 34.55 405.07C35.43 404.71 36.47 404.48 37.42 404.55C38.86 404.67 40.36 405.08 41.71 405.65C43.52 406.41 45.16 407.6 46.91 408.54C48.63 409.45 50.32 410.47 52.12 411.19C53.57 411.78 55.13 412.18 56.67 412.46C58.03 412.7 59.45 412.77 60.83 412.75C62.48 412.72 64.13 412.24 65.78 412.29C68.6 412.37 71.42 412.87 74.23 413.15C77.83 413.51 81.43 414.04 85.03 414.19C87.93 414.31 90.84 414.04 93.75 413.96C97.22 413.87 100.69 413.67 104.16 413.67C108.06 413.67 111.96 413.87 115.87 413.96C119.68 414.05 123.5 414.21 127.32 414.19C130.44 414.17 133.56 414.01 136.68 413.84C139.33 413.7 142 413.63 144.62 413.27C147.2 412.91 149.78 412.39 152.3 411.71C154.51 411.11 156.63 410.17 158.8 409.4" stroke="#ff2020"/>
<path d="M28.7 427C29.05 423.54 29.34 420.07 29.74 416.61C30.12 413.34 30.45 410.04 31.04 406.81C31.23 405.8 31.49 404.39 32.08 403.92C32.45 403.62 33.29 404.34 33.9 404.5C34.76 404.72 35.66 404.82 36.51 405.07C38.26 405.59 40.09 406 41.71 406.81C43.56 407.73 45.12 409.21 46.91 410.27C48.59 411.25 50.27 412.41 52.12 412.92C54.61 413.61 57.32 413.59 59.92 413.84C63.13 414.15 66.34 414.42 69.55 414.59C74.71 414.87 79.87 415.02 85.03 415.17C92.71 415.4 100.39 415.75 108.06 415.75C114.48 415.75 120.9 415.44 127.32 415.17C133.09 414.93 138.86 414.66 144.62 414.19C147.19 413.98 149.77 413.66 152.3 413.15C154.5 412.71 156.63 411.96 158.8 411.36" stroke="#00ff00"/>
<path d="M28.7 427C28.96 421.23 29.24 415.46 29.48 409.69C29.76 402.96 29.91 396.22 30.26 389.5C30.38 387.18 30.69 382.57 30.91 382.57C31.13 382.57 31.38 387.18 31.56 389.5C31.86 393.34 31.99 397.2 32.34 401.04C32.47 402.39 32.58 404.16 32.99 405.07C33.1 405.31 33.67 404.76 33.9 404.5C34.53 403.8 34.94 402.29 35.6 402.19C36.24 402.09 37.03 403.4 37.81 403.92C39.07 404.77 40.43 405.47 41.71 406.29C43.46 407.39 45.14 408.62 46.91 409.69C48.61 410.72 50.28 411.88 52.12 412.57C54.61 413.52 57.28 414.18 59.92 414.59C63.09 415.09 66.34 415.14 69.55 415.29C74.71 415.52 79.87 415.58 85.03 415.75C92.71 416 100.38 416.48 108.06 416.56C114.48 416.62 120.9 416.32 127.32 416.15C133.08 416 138.86 415.87 144.62 415.58C147.18 415.45 149.75 415.19 152.3 414.88C154.47 414.62 156.63 414.19 158.8 413.84" stroke="#1010ff"/>
<path d="M28.7 427C29.05 415.46 29.39 403.92 29.74 392.38C30.09 380.84 30.4 369.3 30.78 357.76C31.01 351.03 31.23 344.29 31.56 337.56C31.66 335.54 31.94 331.12 32.08 331.51C32.29 332.08 32.49 337.47 32.6 340.45C32.93 349.1 33.07 357.76 33.38 366.42C33.59 372.19 33.78 377.97 34.16 383.73C34.22 384.51 34.53 386.24 34.68 386.03C34.96 385.67 35.22 383.34 35.47 381.99C36.05 378.73 36.38 375.4 37.16 372.19C37.59 370.4 38.26 368.6 39.11 366.99C39.48 366.29 40.14 365.26 40.8 365.26C41.87 365.26 43.25 366.25 44.31 366.99C45.72 367.98 46.98 369.23 48.22 370.45C49.58 371.81 50.86 373.26 52.12 374.72C53.68 376.53 55.14 378.43 56.67 380.26C58.04 381.89 59.35 383.59 60.83 385.11C62.17 386.47 63.64 387.72 65.13 388.92C66.54 390.05 67.98 391.2 69.55 392.09C71.02 392.93 72.64 393.53 74.23 394.11C76.11 394.8 78.01 395.5 79.96 395.9C83.21 396.56 86.54 396.97 89.85 397.28C93.3 397.61 96.78 397.76 100.26 397.8C104.59 397.86 108.93 397.76 113.27 397.57C119.77 397.3 126.28 396.88 132.78 396.42C137.12 396.11 141.46 395.7 145.79 395.26C150.13 394.83 154.46 394.3 158.8 393.82" stroke="#1a1a1a"/>
<path d="M28.7 427C28.96 415.46 29.23 403.92 29.48 392.38C29.71 381.8 29.81 371.22 30.13 360.64C30.24 356.93 30.53 350.06 30.78 349.51C30.97 349.1 31.27 355.01 31.43 357.76C31.71 362.56 31.8 367.38 32.08 372.19C32.19 374.11 32.43 378.21 32.6 377.95C32.82 377.63 33.07 372.96 33.25 370.45C33.54 366.61 33.66 362.75 34.03 358.91C34.14 357.86 34.4 355.9 34.68 355.8C34.92 355.71 35.34 357.47 35.6 358.34C36.38 361.01 36.79 365 37.81 366.42C38.17 366.93 39.3 364.99 39.76 364.11C40.6 362.49 40.94 360.59 41.71 358.91C42.89 356.36 44.1 353.77 45.61 351.41C46.7 349.73 47.93 347.94 49.52 346.8C51.14 345.63 53.28 344.68 55.24 344.49C57.18 344.3 59.34 344.95 61.23 345.64C63.5 346.49 65.56 347.95 67.73 349.11C72.07 351.41 76.35 353.83 80.74 356.03C83.72 357.52 86.8 358.83 89.85 360.18C92.43 361.33 95.01 362.51 97.65 363.53C100.04 364.45 102.45 365.41 104.94 366.01C107.66 366.66 110.49 366.88 113.27 367.28C115.43 367.59 117.59 367.94 119.77 368.15C124.1 368.56 128.44 368.89 132.78 369.13C137.11 369.37 141.45 369.55 145.79 369.59C147.96 369.61 150.15 369.56 152.3 369.3C154.48 369.04 156.63 368.45 158.8 368.03" stroke="#ff8a14"/>
</g>
<rect x="88.5" y="311" width="66.9" height="49.7" fill="#fff" stroke="#555" stroke-width="0.7"/>
<path d="M90 316.7H107.5" stroke="#ff2020" stroke-width="1.05"/>
<path d="M90 326.4H107.5" stroke="#00ff00" stroke-width="1.05"/>
<path d="M90 336.1H107.5" stroke="#1010ff" stroke-width="1.05"/>
<path d="M90 345.7H107.5" stroke="#1a1a1a" stroke-width="1.05"/>
<path d="M90 355.3H107.5" stroke="#ff8a14" stroke-width="1.05"/>
<g font-family="'Liberation Serif', serif" font-size="7.65" fill="#000" stroke="#000" stroke-width="0.12">
<text x="109.5" y="319.5">1 Batch size</text>
<text x="109.5" y="329.2">2 Batch size</text>
<text x="109.5" y="338.9">5 Batch size</text>
<text x="109.5" y="348.5">50 Batch size</text>
<text x="109.5" y="358.1">100 Batch size</text>
</g>
<text x="42.9" y="322" font-family="'Liberation Serif', serif" font-size="12" font-weight="bold" fill="#000">(g)</text>
<text transform="translate(6 368.3) rotate(-90)" text-anchor="middle" font-family="'Liberation Serif', serif" font-size="7.65" fill="#000" stroke="#000" stroke-width="0.12">Training RMSE</text>
<text x="88.3" y="441.2" font-family="'Liberation Serif', serif" font-size="7.65" font-style="italic" fill="#000">t<tspan font-size="5.2" dy="1.6">D</tspan></text>
<rect x="204.4" y="307.5" width="130.3" height="119.3" fill="none" stroke="#222" stroke-width="1.1"/>
<path d="M204.4 426.8v-2.6M230.46 426.8v-2.6M256.52 426.8v-2.6M282.58 426.8v-2.6M308.64 426.8v-2.6M334.7 426.8v-2.6M217.43 426.8v-1.4M243.49 426.8v-1.4M269.55 426.8v-1.4M295.61 426.8v-1.4M321.67 426.8v-1.4M204.4 426.8h2.6M204.4 400.3h2.6M204.4 373.8h2.6M204.4 347.3h2.6M204.4 320.8h2.6M204.4 413.55h1.4M204.4 387.05h1.4M204.4 360.55h1.4M204.4 334.05h1.4M204.4 307.55h1.4" fill="none" stroke="#222" stroke-width="1"/>
<g font-family="'Liberation Serif', serif" font-size="7.65" fill="#000" stroke="#000" stroke-width="0.12">
<g text-anchor="middle">
<text x="204.4" y="435.8">0.0</text>
<text x="230.46" y="435.8">0.2</text>
<text x="256.52" y="435.8">0.4</text>
<text x="282.58" y="435.8">0.6</text>
<text x="308.64" y="435.8">0.8</text>
<text x="334.7" y="435.8">1.0</text>
</g><g text-anchor="end">
<text x="201.8" y="429.7">0.000</text>
<text x="201.8" y="403.2">0.005</text>
<text x="201.8" y="376.7">0.010</text>
<text x="201.8" y="350.2">0.015</text>
<text x="201.8" y="323.7">0.020</text>
</g></g>
<g clip-path="url(#ch)" fill="none" stroke-width="0.98" stroke-linejoin="round">
<path d="M204.4 426.8C204.83 424.15 205.1 421.46 205.7 418.85C206.32 416.16 207.08 413.48 208.05 410.9C208.6 409.41 209.35 407.93 210.26 406.66C210.74 405.99 211.48 405.24 212.22 405.07C213 404.89 213.98 405.33 214.82 405.6C216.16 406.03 217.38 406.85 218.73 407.19C220.94 407.74 223.24 408 225.51 408.25C228.02 408.53 230.54 408.73 233.07 408.78C236.88 408.85 240.71 408.68 244.53 408.62C251.35 408.51 258.18 408.57 264.99 408.25C270.86 407.97 276.71 407.25 282.58 406.82C291.26 406.19 299.96 405.69 308.64 405.07C312.99 404.76 317.33 404.43 321.67 404.01C326.02 403.59 330.36 403.02 334.7 402.53" stroke="#ff2020"/>
<path d="M204.4 426.8C204.83 423.62 205.07 420.4 205.7 417.26C206.28 414.39 207.03 411.51 208.05 408.78C208.55 407.44 209.35 406.12 210.26 405.07C210.74 404.53 211.55 404.01 212.22 404.01C213.07 404.01 213.98 404.66 214.82 405.07C216.15 405.72 217.34 406.73 218.73 407.19C220.9 407.91 223.23 408.45 225.51 408.62C228 408.81 230.55 408.37 233.07 408.25C236.89 408.07 240.71 407.78 244.53 407.72C251.35 407.61 258.17 407.66 264.99 407.72C270.85 407.77 276.72 408.16 282.58 408.04C291.27 407.86 299.95 407.24 308.64 406.82C312.98 406.61 317.33 406.42 321.67 406.13C326.02 405.84 330.36 405.42 334.7 405.07" stroke="#00ff00"/>
<path d="M204.4 426.8C204.7 421.5 205.01 416.2 205.31 410.9C205.62 405.6 205.78 400.28 206.22 395C206.41 392.86 206.95 388.27 207.2 388.64C207.56 389.16 207.76 394.65 208.05 397.65C208.3 400.3 208.46 402.98 208.83 405.6C208.89 406.04 209.18 406.94 209.35 406.82C209.66 406.59 209.9 405.27 210.26 404.54C210.77 403.54 211.22 401.93 211.96 401.62C212.52 401.4 213.44 402.49 214.17 402.95C215.27 403.64 216.32 404.41 217.43 405.07C218.7 405.82 219.97 406.65 221.34 407.19C222.66 407.71 224.1 408 225.51 408.25C228.01 408.7 230.54 409.03 233.07 409.31C236.88 409.74 240.7 410.18 244.53 410.37C251.34 410.71 258.17 410.9 264.99 410.9C270.85 410.9 276.72 410.68 282.58 410.37C291.27 409.92 299.95 409.09 308.64 408.62C312.98 408.39 317.33 408.49 321.67 408.25C326.02 408.01 330.36 407.54 334.7 407.19" stroke="#1010ff"/>
<path d="M204.4 426.8C204.75 417.97 205.09 409.13 205.44 400.3C205.87 389.7 206.27 379.1 206.75 368.5C207.05 361.78 207.33 355.06 207.79 348.36C207.9 346.76 208.31 342.92 208.44 343.59C208.75 345.22 208.93 351.36 209.09 355.25C209.41 363.2 209.51 371.16 209.87 379.1C210.03 382.57 210.28 388.31 210.65 389.49C210.84 390.07 211.22 386.09 211.57 384.4C211.82 383.15 212 381.15 212.48 380.69C212.74 380.44 213.3 381.79 213.78 382.28C214.17 382.68 214.69 383.51 215.08 383.34C215.91 382.98 216.51 381.4 217.43 380.69C218.72 379.69 220.24 378.29 221.73 378.2C223.29 378.11 224.99 379.41 226.55 380.16C228.55 381.12 230.46 382.28 232.41 383.34C234.37 384.4 236.2 385.81 238.28 386.52C240.24 387.19 242.44 387.26 244.53 387.47C248.08 387.84 251.65 388.05 255.22 388.27C258.47 388.47 261.73 388.67 264.99 388.75C270.07 388.86 275.16 388.96 280.23 388.85C285.36 388.75 290.49 388.42 295.61 388.11C298.18 387.96 300.73 387.63 303.3 387.47C309.42 387.1 315.54 386.81 321.67 386.52C326.01 386.31 330.36 386.17 334.7 385.99" stroke="#1a1a1a"/>
<path d="M204.4 426.8C204.66 416.2 204.92 405.6 205.18 395C205.44 384.4 205.54 373.79 205.96 363.2C206.06 360.72 206.52 355.4 206.75 355.78C207.05 356.29 207.34 362.49 207.53 365.85C207.86 372.03 207.95 378.22 208.31 384.4C208.43 386.53 208.78 391.13 208.96 390.76C209.21 390.24 209.34 384.75 209.61 381.75C209.99 377.51 210.26 372.01 210.91 369.03C211.04 368.48 211.78 370.39 211.96 371.15C212.69 374.27 212.86 379.49 213.65 380.69C214.03 381.26 215.02 377.91 215.48 376.45C216.28 373.85 216.69 371.12 217.43 368.5C218.04 366.35 218.49 364.08 219.51 362.14C220.36 360.54 221.63 358.98 223.03 357.9C224.02 357.14 225.43 356.81 226.68 356.63C227.91 356.45 229.21 356.68 230.46 356.84C231.56 356.98 232.64 357.28 233.72 357.53C235.68 357.98 237.63 358.46 239.58 358.96C241.8 359.52 243.99 360.2 246.23 360.71C249.16 361.38 252.11 362.08 255.09 362.51C258.36 362.98 261.68 363.3 264.99 363.41C268.67 363.53 272.37 363.31 276.06 363.2C279.54 363.1 283.01 362.85 286.49 362.78C291.7 362.67 296.91 362.59 302.12 362.67C306.47 362.73 310.82 362.91 315.15 363.2C318.64 363.44 322.1 363.94 325.58 364.26C328.62 364.54 331.66 364.75 334.7 365" stroke="#ff8a14"/>
</g>
<rect x="264.7" y="310.3" width="66.9" height="49.8" fill="#fff" stroke="#555" stroke-width="0.7"/>
<path d="M265.9 315.9H283.5" stroke="#ff2020" stroke-width="1.05"/>
<path d="M265.9 325.6H283.5" stroke="#00ff00" stroke-width="1.05"/>
<path d="M265.9 335.3H283.5" stroke="#1010ff" stroke-width="1.05"/>
<path d="M265.9 344.9H283.5" stroke="#1a1a1a" stroke-width="1.05"/>
<path d="M265.9 354.6H283.5" stroke="#ff8a14" stroke-width="1.05"/>
<g font-family="'Liberation Serif', serif" font-size="7.65" fill="#000" stroke="#000" stroke-width="0.12">
<text x="285.8" y="318.7">1 Batch size</text>
<text x="285.8" y="328.4">2 Batch size</text>
<text x="285.8" y="338.1">5 Batch size</text>
<text x="285.8" y="347.7">50 Batch size</text>
<text x="285.8" y="357.4">100 Batch size</text>
</g>
<text x="214.6" y="322.2" font-family="'Liberation Serif', serif" font-size="12" font-weight="bold" fill="#000">(h)</text>
<text transform="translate(181.8 367.3) rotate(-90)" text-anchor="middle" font-family="'Liberation Serif', serif" font-size="7.65" fill="#000" stroke="#000" stroke-width="0.12">Prediction RMSE</text>
<text x="264.8" y="441.2" font-family="'Liberation Serif', serif" font-size="7.65" font-style="italic" fill="#000">t<tspan font-size="5.2" dy="1.6">D</tspan></text>
<rect x="384.4" y="311.5" width="130.2" height="115.2" fill="none" stroke="#222" stroke-width="1.1"/>
<path d="M409.39 426.7v-2.6M435.69 426.7v-2.6M461.99 426.7v-2.6M488.3 426.7v-2.6M514.6 426.7v-2.6M396.24 426.7v-1.4M422.54 426.7v-1.4M448.84 426.7v-1.4M475.15 426.7v-1.4M501.45 426.7v-1.4M384.4 416.23h2.6M384.4 395.28h2.6M384.4 374.34h2.6M384.4 353.39h2.6M384.4 332.45h2.6M384.4 311.5h2.6M384.4 426.7h1.4M384.4 405.75h1.4M384.4 384.81h1.4M384.4 363.86h1.4M384.4 342.92h1.4M384.4 321.97h1.4" fill="none" stroke="#222" stroke-width="1"/>
<g font-family="'Liberation Serif', serif" font-size="7.65" fill="#000" stroke="#000" stroke-width="0.12">
<g text-anchor="middle">
<text x="409.39" y="435.7">20</text>
<text x="435.69" y="435.7">40</text>
<text x="461.99" y="435.7">60</text>
<text x="488.3" y="435.7">80</text>
<text x="514.6" y="435.7">100</text>
</g><g text-anchor="end">
<text x="381.8" y="419.13">0.002</text>
<text x="381.8" y="398.18">0.004</text>
<text x="381.8" y="377.24">0.006</text>
<text x="381.8" y="356.29">0.008</text>
<text x="381.8" y="335.35">0.010</text>
<text x="381.8" y="314.4">0.012</text>
</g></g>
<g clip-path="url(#ci)" fill="none" stroke-width="0.98" stroke-linejoin="round">
<path d="M384.4 415.18L389.66 417.38L448.84 382.82L514.6 320.61" stroke="#ff2020"/>
</g>
<rect x="412.2" y="408.6" width="99.5" height="10.9" fill="#fff" stroke="#555" stroke-width="0.7"/>
<path d="M413.7 414.1H430.8" stroke="#ff2020" stroke-width="1.05"/>
<g font-family="'Liberation Serif', serif" font-size="7.65" fill="#000" stroke="#000" stroke-width="0.12">
<text x="433.3" y="416.9">Training error at <tspan font-style="italic">tD</tspan> = 0.5</text>
</g>
<text x="398.1" y="322.6" font-family="'Liberation Serif', serif" font-size="12" font-weight="bold" fill="#000">(i)</text>
<text transform="translate(363.6 369.8) rotate(-90)" text-anchor="middle" font-family="'Liberation Serif', serif" font-size="7.65" fill="#000" stroke="#000" stroke-width="0.12">Training error</text>
<text x="449.5" y="442.9" text-anchor="middle" font-family="'Liberation Serif', serif" font-size="7.65" fill="#000" stroke="#000" stroke-width="0.12">Batch size</text>
<path d="M398.6 394.3L392.57 410.36" stroke="#00ff00" stroke-width="0.9" fill="none"/>
<path d="M390.6 415.6L390.79 409.69L394.35 411.03Z" fill="#00ff00"/>
<text x="394.8" y="392.9" font-family="'Liberation Sans', sans-serif" font-size="7.5" fill="#000" stroke="#000" stroke-width="0.12">optimal</text>
</svg>
</body></html>
